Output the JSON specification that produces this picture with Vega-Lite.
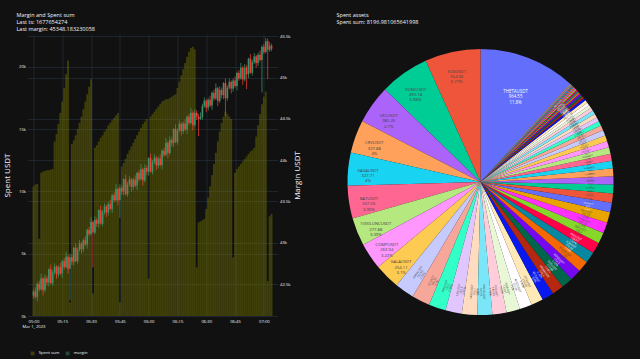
{
"$schema": "https://vega.github.io/schema/vega-lite/v6.json",
"background": "#111111",
"padding": {"left": 2.5, "top": 13, "right": 27, "bottom": 3},
"config": {
  "font": "Open Sans",
  "view": {"stroke": null},
  "axis": {"labelColor": "#f2f5fa", "labelFontSize": 4.2, "gridColor": "#283442", "gridWidth": 0.6, "domain": false, "ticks": false, "labelPadding": 2, "titleColor": "#f2f5fa", "titleFontWeight": "normal", "titleFontSize": 8},
  "title": {"color": "#f2f5fa", "fontSize": 5.5, "lineHeight": 7, "fontWeight": "normal", "anchor": "start", "frame": "group"},
  "legend": {"labelColor": "#f2f5fa", "labelFontSize": 4.2, "symbolSize": 14, "symbolType": "square", "columnPadding": 6, "symbolStrokeWidth": 0}
},
"bounds": "flush",
"spacing": 70,
"resolve": {"scale": {"color": "independent"}, "legend": {"color": "independent"}},
"hconcat": [
{
  "width": 250, "height": 282,
  "title": {"text": ["Margin and Spent sum", "Last ts: 1677654274", "Last margin: 45348.183230058"], "dx": -11, "offset": 1.5},
  "data": {"format": {"parse": {"t": "utc:'%Y-%m-%d %H:%M'"}}, "values": [
{"t":"2023-03-01 05:00","o":42360,"h":42434,"l":42324,"c":42410,"s":10400},
{"t":"2023-03-01 05:01","o":42410,"h":42460,"l":42324,"c":42344,"s":10550},
{"t":"2023-03-01 05:02","o":42344,"h":42519,"l":42292,"c":42503,"s":10600},
{"t":"2023-03-01 05:03","o":42503,"h":42539,"l":42409,"c":42437,"s":6200},
{"t":"2023-03-01 05:04","o":42437,"h":42626,"l":42421,"c":42566,"s":11500},
{"t":"2023-03-01 05:05","o":42566,"h":42586,"l":42361,"c":42425,"s":11600},
{"t":"2023-03-01 05:06","o":42425,"h":42614,"l":42401,"c":42570,"s":11650},
{"t":"2023-03-01 05:07","o":42570,"h":42600,"l":42480,"c":42520,"s":11700},
{"t":"2023-03-01 05:08","o":42520,"h":42690,"l":42472,"c":42680,"s":11700},
{"t":"2023-03-01 05:09","o":42680,"h":42736,"l":42498,"c":42510,"s":11750},
{"t":"2023-03-01 05:10","o":42510,"h":42668,"l":42478,"c":42640,"s":11800},
{"t":"2023-03-01 05:11","o":42640,"h":42750,"l":42618,"c":42710,"s":14000},
{"t":"2023-03-01 05:12","o":42710,"h":42728,"l":42561,"c":42617,"s":14600},
{"t":"2023-03-01 05:13","o":42617,"h":42729,"l":42581,"c":42705,"s":15400},
{"t":"2023-03-01 05:14","o":42705,"h":42755,"l":42608,"c":42628,"s":16300},
{"t":"2023-03-01 05:15","o":42628,"h":42791,"l":42576,"c":42775,"s":17200},
{"t":"2023-03-01 05:16","o":42775,"h":42811,"l":42677,"c":42705,"s":18300},
{"t":"2023-03-01 05:17","o":42705,"h":42890,"l":42689,"c":42830,"s":19400},
{"t":"2023-03-01 05:18","o":42830,"h":42850,"l":42621,"c":42685,"s":20500},
{"t":"2023-03-01 05:19","o":42685,"h":42869,"l":42300,"c":42825,"s":1100},
{"t":"2023-03-01 05:20","o":42825,"h":42855,"l":42730,"c":42770,"s":13800},
{"t":"2023-03-01 05:21","o":42770,"h":42948,"l":42722,"c":42938,"s":14100},
{"t":"2023-03-01 05:22","o":42938,"h":42994,"l":42765,"c":42777,"s":14500},
{"t":"2023-03-01 05:23","o":42777,"h":42943,"l":42745,"c":42915,"s":15000},
{"t":"2023-03-01 05:24","o":42915,"h":43033,"l":42893,"c":42993,"s":15500},
{"t":"2023-03-01 05:25","o":42993,"h":43011,"l":42866,"c":42922,"s":16000},
{"t":"2023-03-01 05:26","o":42922,"h":43054,"l":42886,"c":43030,"s":16600},
{"t":"2023-03-01 05:27","o":43030,"h":43080,"l":42960,"c":42980,"s":17200},
{"t":"2023-03-01 05:28","o":42980,"h":43171,"l":42928,"c":43155,"s":17800},
{"t":"2023-03-01 05:29","o":43155,"h":43191,"l":43077,"c":43105,"s":18400},
{"t":"2023-03-01 05:30","o":43105,"h":43310,"l":43089,"c":43250,"s":19000},
{"t":"2023-03-01 05:31","o":43250,"h":43270,"l":42700,"c":43125,"s":1800},
{"t":"2023-03-01 05:32","o":43125,"h":43319,"l":43101,"c":43275,"s":13500},
{"t":"2023-03-01 05:33","o":43275,"h":43305,"l":43190,"c":43230,"s":13700},
{"t":"2023-03-01 05:34","o":43230,"h":43405,"l":43182,"c":43395,"s":14000},
{"t":"2023-03-01 05:35","o":43395,"h":43451,"l":43218,"c":43230,"s":14300},
{"t":"2023-03-01 05:36","o":43230,"h":43393,"l":43198,"c":43365,"s":14500},
{"t":"2023-03-01 05:37","o":43365,"h":43480,"l":43343,"c":43440,"s":14800},
{"t":"2023-03-01 05:38","o":43440,"h":43458,"l":43309,"c":43365,"s":15000},
{"t":"2023-03-01 05:39","o":43365,"h":43494,"l":43329,"c":43470,"s":15300},
{"t":"2023-03-01 05:40","o":43470,"h":43520,"l":43390,"c":43410,"s":15500},
{"t":"2023-03-01 05:41","o":43410,"h":43591,"l":43358,"c":43575,"s":15700},
{"t":"2023-03-01 05:42","o":43575,"h":43611,"l":43487,"c":43515,"s":15900},
{"t":"2023-03-01 05:43","o":43515,"h":43710,"l":43499,"c":43650,"s":16100},
{"t":"2023-03-01 05:44","o":43650,"h":43670,"l":43451,"c":43515,"s":16300},
{"t":"2023-03-01 05:45","o":43515,"h":43709,"l":43300,"c":43665,"s":1100},
{"t":"2023-03-01 05:46","o":43665,"h":43695,"l":43580,"c":43620,"s":12000},
{"t":"2023-03-01 05:47","o":43620,"h":43779,"l":43572,"c":43769,"s":12300},
{"t":"2023-03-01 05:48","o":43769,"h":43825,"l":43576,"c":43588,"s":12600},
{"t":"2023-03-01 05:49","o":43588,"h":43735,"l":43556,"c":43707,"s":13000},
{"t":"2023-03-01 05:50","o":43707,"h":43806,"l":43685,"c":43766,"s":13300},
{"t":"2023-03-01 05:51","o":43766,"h":43784,"l":43619,"c":43675,"s":13600},
{"t":"2023-03-01 05:52","o":43675,"h":43790,"l":43639,"c":43766,"s":13900},
{"t":"2023-03-01 05:53","o":43766,"h":43816,"l":43672,"c":43692,"s":14200},
{"t":"2023-03-01 05:54","o":43692,"h":43859,"l":43640,"c":43843,"s":14500},
{"t":"2023-03-01 05:55","o":43843,"h":43879,"l":43741,"c":43769,"s":14800},
{"t":"2023-03-01 05:56","o":43769,"h":43950,"l":43753,"c":43890,"s":15100},
{"t":"2023-03-01 05:57","o":43890,"h":43910,"l":43691,"c":43755,"s":15400},
{"t":"2023-03-01 05:58","o":43755,"h":43949,"l":43731,"c":43905,"s":15600},
{"t":"2023-03-01 05:59","o":43905,"h":43935,"l":43820,"c":43860,"s":15800},
{"t":"2023-03-01 06:00","o":43860,"h":44035,"l":43812,"c":44025,"s":3000},
{"t":"2023-03-01 06:01","o":44025,"h":44081,"l":43848,"c":43860,"s":16000},
{"t":"2023-03-01 06:02","o":43860,"h":44003,"l":43828,"c":43975,"s":16200},
{"t":"2023-03-01 06:03","o":43975,"h":44070,"l":43953,"c":44030,"s":16400},
{"t":"2023-03-01 06:04","o":44030,"h":44048,"l":43879,"c":43935,"s":16600},
{"t":"2023-03-01 06:05","o":43935,"h":44044,"l":43899,"c":44020,"s":16800},
{"t":"2023-03-01 06:06","o":44020,"h":44070,"l":43920,"c":43940,"s":17000},
{"t":"2023-03-01 06:07","o":43940,"h":44131,"l":43888,"c":44115,"s":17200},
{"t":"2023-03-01 06:08","o":44115,"h":44151,"l":44037,"c":44065,"s":17300},
{"t":"2023-03-01 06:09","o":44065,"h":44270,"l":44049,"c":44210,"s":17400},
{"t":"2023-03-01 06:10","o":44210,"h":44230,"l":44021,"c":44085,"s":17400},
{"t":"2023-03-01 06:11","o":44085,"h":44289,"l":44061,"c":44245,"s":17500},
{"t":"2023-03-01 06:12","o":44245,"h":44275,"l":44166,"c":44206,"s":17600},
{"t":"2023-03-01 06:13","o":44206,"h":44387,"l":44158,"c":44377,"s":17700},
{"t":"2023-03-01 06:14","o":44377,"h":44433,"l":44206,"c":44218,"s":17800},
{"t":"2023-03-01 06:15","o":44218,"h":44387,"l":44186,"c":44359,"s":18300},
{"t":"2023-03-01 06:16","o":44359,"h":44480,"l":44337,"c":44440,"s":18800},
{"t":"2023-03-01 06:17","o":44440,"h":44458,"l":44296,"c":44352,"s":19300},
{"t":"2023-03-01 06:18","o":44352,"h":44468,"l":44316,"c":44444,"s":19800},
{"t":"2023-03-01 06:19","o":44444,"h":44494,"l":44351,"c":44371,"s":20300},
{"t":"2023-03-01 06:20","o":44371,"h":44540,"l":44319,"c":44524,"s":20800},
{"t":"2023-03-01 06:21","o":44524,"h":44560,"l":44423,"c":44451,"s":21200},
{"t":"2023-03-01 06:22","o":44451,"h":44633,"l":44435,"c":44573,"s":21500},
{"t":"2023-03-01 06:23","o":44573,"h":44593,"l":44361,"c":44425,"s":21600},
{"t":"2023-03-01 06:24","o":44425,"h":44617,"l":44401,"c":44573,"s":21400},
{"t":"2023-03-01 06:25","o":44573,"h":44603,"l":44486,"c":44526,"s":3900},
{"t":"2023-03-01 06:26","o":44526,"h":44560,"l":44290,"c":44500,"s":7500},
{"t":"2023-03-01 06:27","o":44500,"h":44578,"l":44488,"c":44522,"s":7600},
{"t":"2023-03-01 06:28","o":44522,"h":44683,"l":44490,"c":44655,"s":7700},
{"t":"2023-03-01 06:29","o":44655,"h":44760,"l":44633,"c":44720,"s":7800},
{"t":"2023-03-01 06:30","o":44720,"h":44738,"l":44579,"c":44635,"s":8600},
{"t":"2023-03-01 06:31","o":44635,"h":44754,"l":44599,"c":44730,"s":9500},
{"t":"2023-03-01 06:32","o":44730,"h":44780,"l":44640,"c":44660,"s":10400},
{"t":"2023-03-01 06:33","o":44660,"h":44831,"l":44608,"c":44815,"s":11300},
{"t":"2023-03-01 06:34","o":44815,"h":44851,"l":44717,"c":44745,"s":12200},
{"t":"2023-03-01 06:35","o":44745,"h":44930,"l":44729,"c":44870,"s":13100},
{"t":"2023-03-01 06:36","o":44870,"h":44890,"l":44653,"c":44717,"s":14000},
{"t":"2023-03-01 06:37","o":44717,"h":44893,"l":44693,"c":44849,"s":14800},
{"t":"2023-03-01 06:38","o":44849,"h":44879,"l":44746,"c":44786,"s":15500},
{"t":"2023-03-01 06:39","o":44786,"h":44943,"l":44738,"c":44933,"s":16000},
{"t":"2023-03-01 06:40","o":44933,"h":44989,"l":44530,"c":44750,"s":16400},
{"t":"2023-03-01 06:41","o":44750,"h":44906,"l":44718,"c":44878,"s":16200},
{"t":"2023-03-01 06:42","o":44878,"h":44987,"l":44856,"c":44947,"s":16000},
{"t":"2023-03-01 06:43","o":44947,"h":44965,"l":44809,"c":44865,"s":15800},
{"t":"2023-03-01 06:44","o":44865,"h":44987,"l":44829,"c":44963,"s":4700},
{"t":"2023-03-01 06:45","o":44963,"h":45013,"l":44877,"c":44897,"s":11500},
{"t":"2023-03-01 06:46","o":44897,"h":45071,"l":44845,"c":45055,"s":11800},
{"t":"2023-03-01 06:47","o":45055,"h":45091,"l":44961,"c":44989,"s":12000},
{"t":"2023-03-01 06:48","o":44989,"h":45178,"l":44973,"c":45118,"s":12200},
{"t":"2023-03-01 06:49","o":45118,"h":45138,"l":44913,"c":44977,"s":12400},
{"t":"2023-03-01 06:50","o":44977,"h":45165,"l":44953,"c":45121,"s":12600},
{"t":"2023-03-01 06:51","o":45121,"h":45150,"l":44860,"c":45040,"s":12800},
{"t":"2023-03-01 06:52","o":45040,"h":45239,"l":44992,"c":45229,"s":13000},
{"t":"2023-03-01 06:53","o":45229,"h":45285,"l":45046,"c":45058,"s":13200},
{"t":"2023-03-01 06:54","o":45058,"h":45215,"l":45026,"c":45187,"s":13300},
{"t":"2023-03-01 06:55","o":45187,"h":45296,"l":45165,"c":45256,"s":13500},
{"t":"2023-03-01 06:56","o":45256,"h":45274,"l":45119,"c":45175,"s":14400},
{"t":"2023-03-01 06:57","o":45175,"h":45300,"l":45139,"c":45276,"s":15300},
{"t":"2023-03-01 06:58","o":45276,"h":45326,"l":45192,"c":45212,"s":16200},
{"t":"2023-03-01 06:59","o":45212,"h":45389,"l":44820,"c":45373,"s":17000},
{"t":"2023-03-01 07:00","o":45373,"h":45409,"l":45281,"c":45309,"s":17600},
{"t":"2023-03-01 07:01","o":45309,"h":45480,"l":45293,"c":45440,"s":18000},
{"t":"2023-03-01 07:02","o":45440,"h":45470,"l":44980,"c":45335,"s":2800},
{"t":"2023-03-01 07:03","o":45335,"h":45429,"l":45311,"c":45385,"s":8000},
{"t":"2023-03-01 07:04","o":45385,"h":45410,"l":45320,"c":45348.18,"s":8200}
  ]},
  "encoding": {
    "x": {"field": "t", "type": "temporal",
      "scale": {"type": "utc", "domain": [{"year": 2023, "month": 3, "date": 1, "hours": 4, "minutes": 59, "seconds": 30, "utc": true}, {"year": 2023, "month": 3, "date": 1, "hours": 7, "minutes": 4, "seconds": 30, "utc": true}]},
      "axis": {"title": null, "grid": true, "labelPadding": 3, "labelLineHeight": 5,
        "values": [
          {"year": 2023, "month": 3, "date": 1, "hours": 5, "minutes": 0, "utc": true},
          {"year": 2023, "month": 3, "date": 1, "hours": 5, "minutes": 15, "utc": true},
          {"year": 2023, "month": 3, "date": 1, "hours": 5, "minutes": 30, "utc": true},
          {"year": 2023, "month": 3, "date": 1, "hours": 5, "minutes": 45, "utc": true},
          {"year": 2023, "month": 3, "date": 1, "hours": 6, "minutes": 0, "utc": true},
          {"year": 2023, "month": 3, "date": 1, "hours": 6, "minutes": 15, "utc": true},
          {"year": 2023, "month": 3, "date": 1, "hours": 6, "minutes": 30, "utc": true},
          {"year": 2023, "month": 3, "date": 1, "hours": 6, "minutes": 45, "utc": true},
          {"year": 2023, "month": 3, "date": 1, "hours": 7, "minutes": 0, "utc": true}],
        "labelExpr": "datum.index == 0 ? [utcFormat(datum.value, '%H:%M'), 'Mar 1, 2023'] : utcFormat(datum.value, '%H:%M')"}}
  },
  "layer": [
    {"mark": {"type": "bar", "width": 1.85, "opacity": 0.42},
     "encoding": {
       "y": {"field": "s", "type": "quantitative", "scale": {"domain": [0, 22630]},
         "axis": {"orient": "left", "title": "Spent USDT", "values": [0, 5000, 10000, 15000, 20000], "format": "~s", "grid": true, "titleX": -20.5, "titleY": 141, "titleAngle": 270, "titleBaseline": "middle", "titleAlign": "center"}},
       "color": {"datum": "Spent sum", "type": "nominal", "scale": {"domain": ["Spent sum", "margin"], "range": ["#808000", "#3D9970"]},
         "legend": {"orient": "none", "legendX": 3, "legendY": 317, "direction": "horizontal", "title": null}}
     }},
    {"layer": [
      {"mark": {"type": "rule", "strokeWidth": 0.7},
       "encoding": {
         "y": {"field": "l", "type": "quantitative", "scale": {"domain": [42113, 45527], "zero": false},
           "axis": {"orient": "right", "title": "Margin USDT", "values": [42500, 43000, 43500, 44000, 44500, 45000, 45500], "format": "~s", "grid": true, "titleX": 20, "titleY": 141, "titleAngle": 270, "titleBaseline": "middle", "titleAlign": "center"}},
         "y2": {"field": "h"},
         "color": {"condition": {"test": "datum.c >= datum.o", "value": "#3D9970"}, "value": "#FF4136"}
       }},
      {"mark": {"type": "bar", "width": 1.7, "opacity": 0.85},
       "encoding": {
         "y": {"field": "o", "type": "quantitative", "scale": {"domain": [42113, 45527], "zero": false},
           "axis": {"orient": "right", "title": "Margin USDT", "values": [42500, 43000, 43500, 44000, 44500, 45000, 45500], "format": "~s", "grid": true, "titleX": 20, "titleY": 141, "titleAngle": 270, "titleBaseline": "middle", "titleAlign": "center"}},
         "y2": {"field": "c"},
         "color": {"condition": {"test": "datum.c >= datum.o", "value": "#3D9970"}, "value": "#FF4136"}
       }}
    ]}
  ],
  "resolve": {"scale": {"y": "independent", "color": "independent"}}
},
{
  "width": 266, "height": 296,
  "title": {"text": ["Spent assets", "Spent sum: 8196.981065641998"], "dx": -11, "offset": 8.5},
  "data": {"values": [
{"a":"THETAUSDT","v":964.55},{"a":"EOSUSDT","v":554.94},{"a":"DUSKUSDT","v":490.18},{"a":"LRCUSDT","v":385.26},{"a":"CRVUSDT","v":327.88},
{"a":"KAVAUSDT","v":327.71},{"a":"BATUSDT","v":327.06},{"a":"1000LUNCUSDT","v":277.88},{"a":"COMPUSDT","v":263.94},{"a":"GALAUSDT","v":254.11},
{"a":"ANKRUSDT","v":192.63},{"a":"ZILUSDT","v":180.33},{"a":"ONEUSDT","v":170.5},{"a":"CHZUSDT","v":162.3},{"a":"SANDUSDT","v":154.1},
{"a":"MANAUSDT","v":147.55},{"a":"ENJUSDT","v":140.99},{"a":"XLMUSDT","v":133.61},{"a":"ALGOUSDT","v":122.96},{"a":"IOTAUSDT","v":119.68},
{"a":"VETUSDT","v":118.86},{"a":"HBARUSDT","v":116.4},{"a":"GRTUSDT","v":113.94},{"a":"ROSEUSDT","v":112.3},{"a":"FLOWUSDT","v":111.48},
{"a":"ICXUSDT","v":110.66},{"a":"KNCUSDT","v":109.84},{"a":"ZRXUSDT","v":108.2},{"a":"STORJUSDT","v":107.38},{"a":"SKLUSDT","v":105.74},
{"a":"CELRUSDT","v":96.72},{"a":"RSRUSDT","v":91.81},{"a":"OGNUSDT","v":86.89},{"a":"BELUSDT","v":81.97},{"a":"ALICEUSDT","v":77.87},
{"a":"AUDIOUSDT","v":73.77},{"a":"C98USDT","v":69.67},{"a":"MASKUSDT","v":65.58},{"a":"DENTUSDT","v":62.3},{"a":"HOTUSDT","v":59.02},
{"a":"MTLUSDT","v":55.74},{"a":"ONTUSDT","v":50.82},{"a":"QTUMUSDT","v":46.72},{"a":"NKNUSDT","v":42.62},{"a":"SXPUSDT","v":39.35},
{"a":"BANDUSDT","v":36.89},{"a":"RLCUSDT","v":34.43},{"a":"CTSIUSDT","v":31.97},{"a":"LINAUSDT","v":30.33},{"a":"REEFUSDT","v":29.51},
{"a":"SFPUSDT","v":24.59},{"a":"UNFIUSDT","v":22.13},{"a":"TRBUSDT","v":20.49},{"a":"BLZUSDT","v":18.85},{"a":"ARPAUSDT","v":17.21},
{"a":"COTIUSDT","v":15.57},{"a":"DGBUSDT","v":13.93},{"a":"FLMUSDT","v":12.3},{"a":"IOSTUSDT","v":11.48},{"a":"CHRUSDT","v":10.66},
{"a":"BAKEUSDT","v":9.84},{"a":"LITUSDT","v":8.2},{"a":"TLMUSDT","v":7.38},{"a":"ATAUSDT","v":6.56},{"a":"GTCUSDT","v":5.74},
{"a":"CELOUSDT","v":4.92},{"a":"KLAYUSDT","v":4.1},{"a":"API3USDT","v":3.28},{"a":"WOOUSDT","v":2.46},{"a":"JASMYUSDT","v":1.64}
  ]},
  "transform": [
    {"joinaggregate": [{"op": "sum", "field": "v", "as": "tot"}]},
    {"window": [{"op": "row_number", "as": "rk"}], "sort": [{"field": "v", "order": "descending"}]},
    {"window": [{"op": "sum", "field": "v", "as": "cum"}], "sort": [{"field": "v", "order": "ascending"}], "frame": [null, 0]},
    {"calculate": "((datum.cum - datum.v / 2) / datum.tot * 360 + 42.36) % 360", "as": "mid"},
    {"calculate": "datum.mid < 180 ? datum.mid - 90 : datum.mid - 270", "as": "ang"},
    {"calculate": "datum.a + '\\n' + datum.v + '\\n' + format(datum.v / datum.tot * 100, '.3~r') + '%'", "as": "lbl"}
  ],
  "encoding": {
    "theta": {"field": "v", "type": "quantitative", "stack": true, "scale": {"range": [0.7393, 7.0225]}},
    "order": {"field": "v", "sort": "ascending"},
    "color": {"field": "a", "type": "nominal", "legend": null,
      "scale": {"domain": ["THETAUSDT","EOSUSDT","DUSKUSDT","LRCUSDT","CRVUSDT","KAVAUSDT","BATUSDT","1000LUNCUSDT","COMPUSDT","GALAUSDT","ANKRUSDT","ZILUSDT","ONEUSDT","CHZUSDT","SANDUSDT","MANAUSDT","ENJUSDT","XLMUSDT","ALGOUSDT","IOTAUSDT","VETUSDT","HBARUSDT","GRTUSDT","ROSEUSDT","FLOWUSDT","ICXUSDT","KNCUSDT","ZRXUSDT","STORJUSDT","SKLUSDT","CELRUSDT","RSRUSDT","OGNUSDT","BELUSDT","ALICEUSDT","AUDIOUSDT","C98USDT","MASKUSDT","DENTUSDT","HOTUSDT","MTLUSDT","ONTUSDT","QTUMUSDT","NKNUSDT","SXPUSDT","BANDUSDT","RLCUSDT","CTSIUSDT","LINAUSDT","REEFUSDT","SFPUSDT","UNFIUSDT","TRBUSDT","BLZUSDT","ARPAUSDT","COTIUSDT","DGBUSDT","FLMUSDT","IOSTUSDT","CHRUSDT","BAKEUSDT","LITUSDT","TLMUSDT","ATAUSDT","GTCUSDT","CELOUSDT","KLAYUSDT","API3USDT","WOOUSDT","JASMYUSDT"],
      "range": ["#636efa","#ef553b","#00cc96","#ab63fa","#ffa15a","#19d3f3","#ff6692","#b6e880","#ff97ff","#fecb52",
                "#c6cafd","#f7a799","#33ffc9","#e0c6fd","#ffdbc0","#7ae6f8","#ffccdb","#e8f8d6","#fffdff","#ffe9b7",
                "#0819ef","#b5270f","#00664b","#7608ef","#f36800","#08889e","#ff0049","#85d82a","#ff31ff","#e9a401",
                "#636efa","#ef553b","#00cc96","#ab63fa","#ffa15a","#19d3f3","#ff6692","#b6e880","#ff97ff","#fecb52",
                "#c6cafd","#f7a799","#33ffc9","#e0c6fd","#ffdbc0","#7ae6f8","#ffccdb","#e8f8d6","#fffdff","#ffe9b7",
                "#0819ef","#b5270f","#00664b","#7608ef","#f36800","#08889e","#ff0049","#85d82a","#ff31ff","#e9a401",
                "#636efa","#ef553b","#00cc96","#ab63fa","#ffa15a","#19d3f3","#ff6692","#b6e880","#ff97ff","#fecb52"]}}
  },
  "layer": [
    {"mark": {"type": "arc", "outerRadius": 133, "strokeWidth": 0}, "encoding": {}},
    {"mark": {"type": "text", "radius": 97, "fontSize": 4.4, "lineHeight": 5.5, "lineBreak": "\n"},
     "encoding": {"text": {"condition": {"test": "datum.rk == 1", "field": "lbl", "type": "nominal"}, "value": ""}, "color": {"value": "#ffffff"}}},
    {"mark": {"type": "text", "radius": 113, "fontSize": 4.2, "lineHeight": 5.2, "lineBreak": "\n"},
     "encoding": {"text": {"condition": {"test": "datum.rk > 1 && datum.rk <= 10", "field": "lbl", "type": "nominal"}, "value": ""}, "color": {"value": "#444444"}}},
    {"mark": {"type": "text", "radius": 110, "lineHeight": 3, "lineBreak": "\n"},
     "encoding": {
       "text": {"condition": {"test": "datum.rk > 10 && datum.rk <= 62", "field": "lbl", "type": "nominal"}, "value": ""},
       "angle": {"field": "ang", "type": "quantitative", "scale": null},
       "size": {"condition": {"test": "datum.rk <= 30", "value": 2.8}, "value": 2},
       "color": {"condition": {"test": "indexof([1,21,22,23,24,26,27,31,51,52,53,54,56,57,61], datum.rk) >= 0", "value": "#ffffff"}, "value": "#444444"}}}
  ]
}
]
}
